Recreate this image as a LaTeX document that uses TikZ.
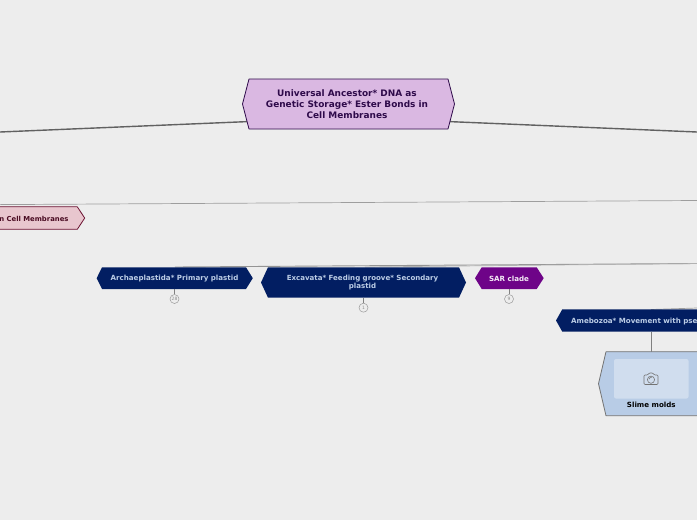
\documentclass[tikz,border=0pt]{standalone}
\usepackage{fontspec}
\setmainfont{DejaVu Sans}
\usetikzlibrary{calc}
\definecolor{bg}{HTML}{EDEDED}
\definecolor{navy}{HTML}{021E62}
\definecolor{navytxt}{HTML}{BCCDE6}
\definecolor{purp}{HTML}{6E0488}
\definecolor{rootfill}{HTML}{DAB8E2}
\definecolor{rootdraw}{HTML}{2E0A4A}
\definecolor{pinkfill}{HTML}{E8C6CE}
\definecolor{pinkdraw}{HTML}{6A1030}
\definecolor{slimefill}{HTML}{B8CCE6}
\definecolor{slimein}{HTML}{D0DDEE}
\tikzset{
  x=1pt,y=-1pt,
  hexshape/.style={line width=.8pt,line join=round},
  lab/.style={align=center,inner sep=0pt,font=\bfseries},
  bigline/.style={draw=black!62,line width=1.4pt},
  thinline/.style={draw=black!38,line width=.7pt},
  stub/.style={draw=black!50,line width=.7pt},
  badge/.style={circle,draw=black!40,fill=bg,minimum size=9pt,inner sep=0pt,line width=.5pt,text=black!45,font=\fontsize{4.5}{5}\selectfont},
}
% name, left tip, inset L, right tip, inset R, top, bottom, style
\newcommand{\hexa}[8]{%
  \coordinate (#1) at ({(#2+#4)/2},{(#6+#7)/2});
  \coordinate (#1-t) at ({(#2+#4)/2},#6);
  \coordinate (#1-b) at ({(#2+#4)/2},#7);
  \path[hexshape,#8] (#2,{(#6+#7)/2}) -- ({#2+#3},#6) -- ({#4-#5},#6) -- (#4,{(#6+#7)/2}) -- ({#4-#5},#7) -- ({#2+#3},#7) -- cycle;
}
\begin{document}
\begin{tikzpicture}
\useasboundingbox (0,0) rectangle (697,520);
\clip (0,0) rectangle (697,520);
\fill[bg] (0,0) rectangle (697,520);

\coordinate (c-l) at (0,132);
\coordinate (c-r) at (697,132);
\coordinate (c-t1) at (0,204.6);
\coordinate (c-t2) at (697,200.5);
\coordinate (c-t3) at (697,263.5);
\coordinate (c-t4) at (697,308);
\coordinate (c-a) at (175,267);
\coordinate (c-e) at (365,267);
\coordinate (c-s) at (651,309.5);

% connectors
\draw[bigline] (c-l) -- (250,121.5);
\draw[bigline] (c-r) -- (447,121.5);
\draw[thinline] (c-t1) -- (c-t2);
\draw[draw=black!42,line width=.9pt] (c-a) -- (c-t3);
\draw[draw=black!30,line width=.7pt] (c-e) -- (c-t3);
\draw[thinline] (c-s) -- (c-t4);

% root
\hexa{root}{242.5}{6.5}{454.5}{6.5}{79}{129}{draw=rootdraw,fill=rootfill}
\node[lab,text=rootdraw,font=\bfseries\fontsize{8.95}{11.2}\selectfont] (rootlab) at (347,104) {Universal Ancestor* DNA as\\Genetic Storage* Ester Bonds in\\Cell Membranes};

% pink
\hexa{pink}{-140}{7}{84.7}{7.4}{206.8}{229.3}{draw=pinkdraw,fill=pinkfill}
\node[lab,anchor=east,text=pinkdraw!70!black,font=\bfseries\fontsize{6.85}{8}\selectfont] (pinklab) at (68.7,218.5) {n Cell Membranes};

% children
\hexa{arch}{96.7}{5.3}{252.8}{6.8}{267.3}{289}{fill=navy}
\node[lab,text=navytxt,font=\bfseries\fontsize{7.1}{8}\selectfont] (archlab) at (174.5,278.8) {Archaeplastida* Primary plastid};
\hexa{exc}{261}{7}{466}{7}{267.3}{297.7}{fill=navy}
\node[lab,text=navytxt,font=\bfseries\fontsize{7.05}{8.4}\selectfont] (exclab) at (362.5,282.8) {Excavata* Feeding groove* Secondary\\plastid};
\hexa{sar}{475}{6.7}{543.7}{7}{267.3}{289}{fill=purp}
\node[lab,text=white!92!purp,font=\bfseries\fontsize{7.1}{8}\selectfont] (sarlab) at (509,278.8) {SAR clade};
\hexa{ame}{556}{6.3}{860}{7}{309.3}{331.7}{fill=navy}
\node[lab,anchor=west,text=navytxt,font=\bfseries\fontsize{7.1}{8}\selectfont] (amelab) at (571,321.2) {Amebozoa* Movement with pse};

% slime
\draw[stub] (651,331.7) -- (651,351.7);
\hexa{slime}{598.5}{7.5}{860}{7}{351.7}{415.7}{draw=black!55,fill=slimefill}
\fill[slimein,rounded corners=2pt] (614,359) rectangle (688.5,398.5);
\node[lab,text=black,font=\bfseries\fontsize{7.1}{8}\selectfont] (slimelab) at (651.3,405) {Slime molds};
% camera icon
\begin{scope}[shift={(651,379)},draw=black!55,line width=.6pt]
\draw[rounded corners=1pt] (-7,-4) -- (-3.2,-4) -- (-2,-6) -- (2,-6) -- (3.2,-4) -- (7,-4) -- (7,5.5) -- (-7,5.5) -- cycle;
\draw (0,.7) circle (3.6);
\draw (-2,.2) arc (190:280:2.2);
\end{scope}

% badges
\coordinate (arch-s) at (174.5,289);
\coordinate (exc-s) at (363.5,297.7);
\coordinate (sar-s) at (509,289);
\node[badge] (b1) at (174.5,299) {28};
\node[badge] (b2) at (363.5,307.7) {1};
\node[badge] (b3) at (509,299) {9};
\draw[stub] (arch-s) -- (b1);
\draw[stub] (exc-s) -- (b2);
\draw[stub] (sar-s) -- (b3);
\end{tikzpicture}
\end{document}
